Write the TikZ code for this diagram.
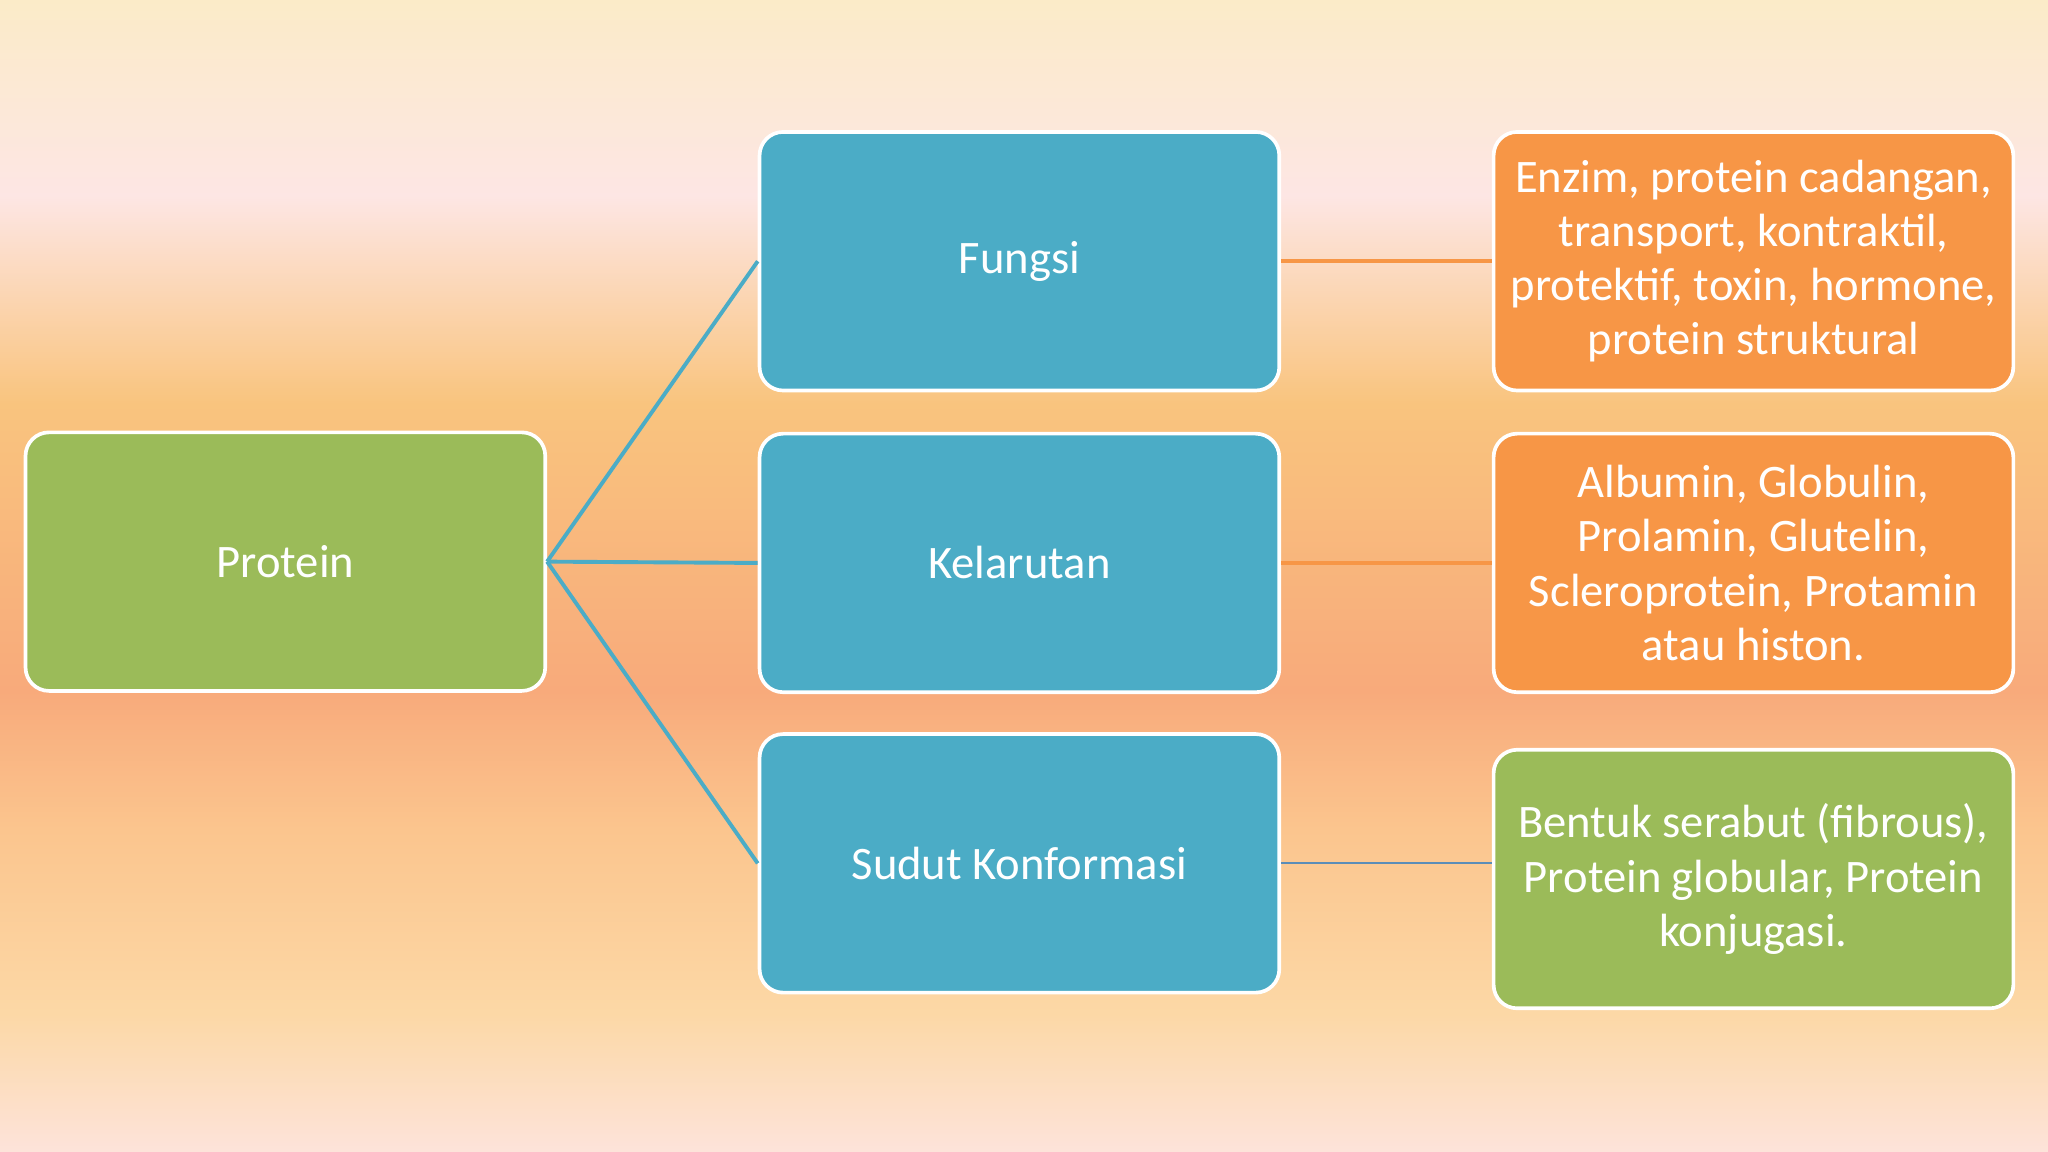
\documentclass[tikz,border=0pt]{standalone}
\usepackage{fontspec}
\setmainfont{Carlito}
\definecolor{c0}{HTML}{FBEBC8}
\definecolor{c1}{HTML}{FDE6E4}
\definecolor{c2}{HTML}{F9C47E}
\definecolor{c3}{HTML}{F8AA7B}
\definecolor{c4}{HTML}{FBC58E}
\definecolor{c5}{HTML}{FCD8A6}
\definecolor{c6}{HTML}{FDE3DA}
\definecolor{pgreen}{HTML}{9BBB59}
\definecolor{pblue}{HTML}{4BACC6}
\definecolor{porange}{HTML}{F79646}
\definecolor{pline}{HTML}{5B8DB8}
\pgfdeclareverticalshading{bg}{100bp}{
 color(0bp)=(c6); color(25bp)=(c6); color(31bp)=(c5); color(39bp)=(c4); color(45bp)=(c3); color(57.5bp)=(c2); color(66.5bp)=(c1); color(75bp)=(c0); color(100bp)=(c0)}
\begin{document}
\begin{tikzpicture}[x=0.02cm,y=-0.02cm,
 box/.style={draw=white,line width=1.6pt,rounded corners=0.36cm,minimum width=7.96cm,minimum height=3.96cm,text=white,font=\fontsize{20.3}{23.6}\selectfont,align=center,inner sep=2pt},
 conb/.style={pblue,line width=1.7pt},
 cono/.style={porange,line width=1.7pt}]
\shade[shading=bg] (0,0) rectangle (1568,882);
\useasboundingbox (0,0) rectangle (1568,882);
\node[box,fill=pgreen] (p) at (218.5,430) {Protein};
\node[box,fill=pblue] (f) at (780.5,200) {Fungsi};
\node[box,fill=pblue] (k) at (780.5,431) {Kelarutan};
\node[box,fill=pblue] (s) at (780.5,661) {Sudut Konformasi};
\node[box,fill=porange] (r1) at (1342.5,200) {Enzim, protein cadangan,\\transport, kontraktil,\\protektif, toxin, hormone,\\protein struktural};
\node[box,fill=porange] (r2) at (1342.5,431) {Albumin, Globulin,\\Prolamin, Glutelin,\\Scleroprotein, Protamin\\atau histon.};
\node[box,fill=pgreen] (r3) at (1342.5,673) {Bentuk serabut (fibrous),\\Protein globular, Protein\\konjugasi.};
\draw[conb] (p.east) -- (f.west);
\draw[conb] (p.east) -- (k.west);
\draw[conb] (p.east) -- (s.west);
\draw[cono] (f.east) -- (f.east -| r1.west);
\draw[cono] (k.east) -- (k.east -| r2.west);
\draw[pline,line width=0.9pt] (s.east) -- (s.east -| r3.west);
\end{tikzpicture}
\end{document}
